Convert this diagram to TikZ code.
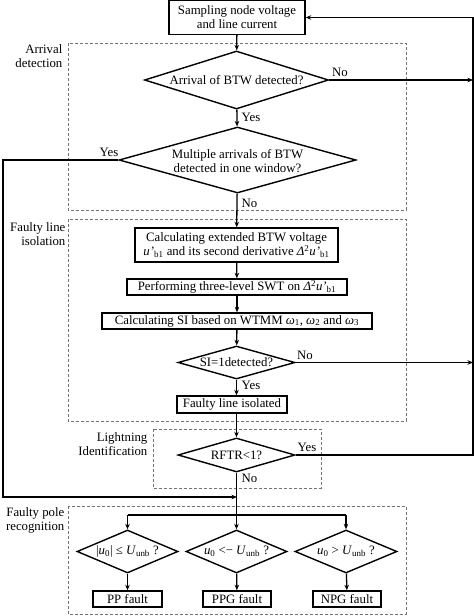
\documentclass[tikz,border=0pt]{standalone}
\usepackage{fontspec}
\setmainfont{Liberation Serif}
\usetikzlibrary{shapes.geometric,arrows.meta}
\newcommand{\ubone}{\textit{u'}\textsubscript{b1}}
\newcommand{\dub}{\textit{Δ}\textsuperscript{2}\ubone}
\begin{document}
\begin{tikzpicture}[x=1pt,y=-1pt,
  font=\fontsize{12.8}{14}\selectfont,
  line width=1.3pt,
  >={Stealth[length=5.5pt,width=4.5pt]},
  procbox/.style={draw, line width=1.4pt, inner sep=0pt, align=center},
  dmd/.style={draw, diamond, line width=1.4pt, inner sep=0pt},
  dtext/.style={align=center, inner sep=0pt},
  group/.style={draw=black!55, dash pattern=on 3pt off 2pt, line width=0.8pt},
  glabel/.style={align=right, anchor=east, inner sep=0pt},
  yn/.style={inner sep=0pt}]
\useasboundingbox (0,0) rectangle (474,616);

% groups
\draw[group] (68,43) rectangle (406,210);
\draw[group] (68,219) rectangle (406,421);
\draw[group] (153,429) rectangle (321,488);
\draw[group] (68,506) rectangle (406,614);
\node[glabel] (g1) at (63,56) {Arrival\\detection};
\node[glabel] (g2) at (66,234) {Faulty line\\isolation};
\node[glabel] (g3) at (148,444) {Lightning\\Identification};
\node[glabel] (g4) at (65,520) {Faulty pole\\recognition};

% nodes
\node[procbox, minimum width=136pt, minimum height=34pt] (top) at (237,17.5) {Sampling node voltage\\and line current};
\node[dmd, minimum width=184pt, minimum height=58pt] (d1) at (236.5,80) {};
\node[dtext] (d1t) at (d1) {Arrival of BTW detected?};
\node[dmd, minimum width=237pt, minimum height=66pt] (d2) at (237.5,160) {};
\node[dtext] (d2t) at (237.5,161) {Multiple arrivals of BTW\\detected in one window?};
\node[procbox, minimum width=203pt, minimum height=34pt] (ba) at (236.5,245) {Calculating extended BTW voltage\\\ubone{} and its second derivative \dub};
\node[procbox, minimum width=220pt, minimum height=16pt] (bb) at (237,287) {Performing three-level SWT on \dub};
\node[procbox, minimum width=270pt, minimum height=16pt] (bc) at (237,321) {Calculating SI based on WTMM \textit{ω}\textsubscript{1}, \textit{ω}\textsubscript{2} and \textit{ω}\textsubscript{3}};
\node[dmd, minimum width=117pt, minimum height=33pt] (d3) at (236.5,362.5) {};
\node[dtext] (d3t) at (d3) {SI=1detected?};
\node[procbox, minimum width=110pt, minimum height=17pt] (bd) at (232,404.5) {Faulty line isolated};
\node[dmd, minimum width=117pt, minimum height=34pt] (d4) at (236.5,455) {};
\node[dtext] (d4t) at (d4) {RFTR<1?};
\node[dmd, minimum width=101pt, minimum height=43pt] (d5) at (127.5,551.5) {};
\node[dtext] (d5t) at (d5) {|\textit{u}\textsubscript{0}| ≤ \textit{U}\textsubscript{unb} ?};
\node[dmd, minimum width=101pt, minimum height=43pt] (d6) at (236.5,551.5) {};
\node[dtext] (d6t) at (d6) {\textit{u}\textsubscript{0} <− \textit{U}\textsubscript{unb} ?};
\node[dmd, minimum width=102pt, minimum height=43pt] (d7) at (346,551.5) {};
\node[dtext] (d7t) at (d7) {\textit{u}\textsubscript{0} > \textit{U}\textsubscript{unb} ?};
\node[procbox, minimum width=69pt, minimum height=16pt] (pp) at (127.5,599) {PP fault};
\node[procbox, minimum width=68pt, minimum height=16pt] (ppg) at (237,599) {PPG fault};
\node[procbox, minimum width=68pt, minimum height=16pt] (npg) at (347,599) {NPG fault};

% helper coordinates
\coordinate (rtop) at (473,17.5);
\coordinate (rbot) at (473,455);
\coordinate (lt) at (3,160);
\coordinate (lb) at (3,497);
\coordinate (join) at (237,497);
\coordinate (split) at (237,515);

% connectors
\draw[->] (top) -- (d1);
\draw[->] (d1) -- (d2);
\draw[->] (d1.east) -- (d1.east -| rtop);
\draw[->] (d2.west) -- (lt) -- (lb) -- (join);
\draw[->] (d2) -- (ba);
\draw[->] (ba) -- (bb);
\draw[->] (bb) -- (bc);
\draw[->] (bc) -- (d3);
\draw[->] (d3.east) -- (d3.east -| rtop);
\draw[->] (d3.south) -- (d3.south |- bd.north);
\draw[->] (d3.south |- bd.south) -- (d4.north);
\draw[->] (d4.east) -- (rbot) -- (rtop) -- (top.east);
\draw[->] (d4.south) -- (d6.north);
\draw (d5.north |- split) -- (d7.north |- split);
\draw[->] (d5.north |- split) -- (d5.north);
\draw[->] (d7.north |- split) -- (d7.north);
\draw[->] (d5) -- (pp);
\draw[->] (d6) -- (ppg);
\draw[->] (d7) -- (npg);

% yes/no labels
\node[yn] (n1) at (340,72) {No};
\node[yn, anchor=west] (y1) at (241,117) {Yes};
\node[yn] (y2) at (109,152) {Yes};
\node[yn, anchor=west] (n2) at (241,203) {No};
\node[yn] (n3) at (305,355) {No};
\node[yn, anchor=west] (y3) at (241,385) {Yes};
\node[yn] (y4) at (307,447) {Yes};
\node[yn, anchor=west] (n4) at (241,478) {No};
\end{tikzpicture}
\end{document}
